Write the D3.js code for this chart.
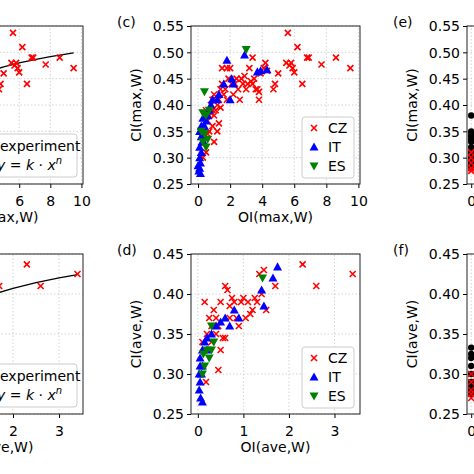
<!DOCTYPE html>
<html><head><meta charset="utf-8">
<script src="https://cdn.jsdelivr.net/npm/d3@7"></script>
<style>body{margin:0;background:#fff}svg{display:block}text{font-family:"DejaVu Sans",sans-serif}</style>
</head><body><svg id="c" width="474" height="474"></svg>
<script>
const czMax=[[5.6,0.537],[6.2,0.51],[9.5,0.47],[8.6,0.49],[7.7,0.477],[6.8,0.49],[6.9,0.49],[5.5,0.48],[5.7,0.475],[5.8,0.48],[5.9,0.47],[6.0,0.462],[6.5,0.44],[5.0,0.46],[4.7,0.43],[4.8,0.44],[4.2,0.48],[4.1,0.47],[3.9,0.46],[4.3,0.465],[3.8,0.41],[3.7,0.43],[3.8,0.425],[3.5,0.45],[3.4,0.44],[3.3,0.445],[3.2,0.47],[3.4,0.49],[3.1,0.44],[3.0,0.43],[2.9,0.455],[2.8,0.44],[2.6,0.41],[2.5,0.43],[2.4,0.45],[2.3,0.44],[2.1,0.44],[2.0,0.47],[1.9,0.45],[1.7,0.43],[1.6,0.42],[1.5,0.44],[1.4,0.43],[1.3,0.41],[1.2,0.40],[1.1,0.39],[1.0,0.38],[1.0,0.42],[0.9,0.39],[0.8,0.385],[0.7,0.38],[0.6,0.37],[0.5,0.39],[0.9,0.36],[1.2,0.35],[1.3,0.365],[0.7,0.35],[1.0,0.33],[0.5,0.31],[0.3,0.30],[1.5,0.47],[1.8,0.47],[2.2,0.42],[1.1,0.41],[0.8,0.40],[3.6,0.43],[2.7,0.45],[0.6,0.345],[0.4,0.35],[1.4,0.395],[0.9,0.41],[1.8,0.41]];
const itMax=[[1.8,0.485],[2.9,0.495],[3.7,0.463],[3.9,0.465],[4.3,0.467],[2.1,0.45],[2.2,0.44],[1.3,0.42],[1.6,0.44],[2.0,0.41],[0.1,0.28],[0.05,0.275],[0.15,0.29],[0.1,0.3],[0.2,0.31],[0.1,0.32],[0.25,0.33],[0.3,0.345],[0.4,0.36],[0.5,0.37],[0.6,0.38],[0.7,0.39],[0.8,0.40],[0.9,0.41],[0.2,0.34],[0.1,0.35],[0.3,0.375],[0.0,0.285],[0.15,0.27],[0.35,0.33],[1.2,0.41],[0.2,0.36]];
const esMax=[[3.0,0.505],[0.4,0.425],[0.3,0.385],[0.5,0.38],[0.4,0.345],[0.3,0.33],[0.5,0.32],[0.6,0.335],[0.2,0.35],[0.7,0.39]];
const czAve=[[2.3,0.437],[3.4,0.425],[2.6,0.41],[1.7,0.41],[1.45,0.43],[1.35,0.425],[1.5,0.38],[1.2,0.38],[1.1,0.39],[1.0,0.395],[1.3,0.39],[1.15,0.375],[0.95,0.39],[0.85,0.37],[0.8,0.39],[0.7,0.385],[0.6,0.41],[0.65,0.405],[0.5,0.39],[0.4,0.37],[0.3,0.36],[0.2,0.35],[0.15,0.39],[0.55,0.345],[0.6,0.345],[0.5,0.33],[0.45,0.305],[0.18,0.29],[0.25,0.37],[0.35,0.38],[0.45,0.36],[0.7,0.37],[0.9,0.36],[1.25,0.395],[1.4,0.4],[0.75,0.395],[1.05,0.37],[0.3,0.34],[0.4,0.35],[0.1,0.34]];
const itAve=[[1.75,0.434],[1.65,0.42],[1.4,0.405],[1.45,0.385],[0.9,0.37],[0.8,0.38],[0.4,0.36],[0.3,0.35],[0.2,0.345],[0.15,0.34],[0.1,0.33],[0.05,0.32],[0.05,0.31],[0.08,0.30],[0.05,0.29],[0.03,0.28],[0.06,0.27],[0.1,0.265],[0.03,0.3],[0.1,0.31],[0.2,0.33],[0.5,0.365],[0.6,0.37],[0.7,0.36]];
const esAve=[[1.42,0.42],[0.3,0.36],[0.2,0.33],[0.25,0.32],[0.15,0.31],[0.1,0.30],[0.3,0.33],[0.35,0.34],[0.12,0.325]];
const blackE=[0.38,0.35,0.345,0.34,0.33,0.32,0.31,0.30,0.29,0.28,0.285,0.335];
const redE=[0.30,0.29,0.28,0.275,0.31];
const blackF=[0.333,0.325,0.32,0.31,0.30,0.29,0.28,0.275,0.285];
const redF=[0.28,0.275,0.27,0.29,0.30];
const fitMax={k:0.412,n:0.085}, fitAve={k:0.386,n:0.077};
const fitXMax=[0.3,0.5,1,1.5,2,3,4,5,6,7,8,9,9.5], fitXAve=[0.1,0.2,0.4,0.6,0.8,1,1.5,2,2.5,3,3.4];
const yTicksMax=[0.25,0.30,0.35,0.40,0.45,0.50,0.55], yTicksAve=[0.25,0.30,0.35,0.40,0.45];

const svg=d3.select("#c");
const RED="#ff0000",BLUE="#0000ff",GREEN="#008000",FS=14;
function cross(g,x,y,c){g.append("path").attr("d",`M${x-3},${y-3}L${x+3},${y+3}M${x-3},${y+3}L${x+3},${y-3}`).attr("stroke",c).attr("stroke-width",1.6);}
function tri(g,x,y,c,up){const s=4.5;g.append("path").attr("d",up?`M${x},${y-s}L${x+s},${y+s*0.8}L${x-s},${y+s*0.8}Z`:`M${x},${y+s}L${x+s},${y-s*0.8}L${x-s},${y-s*0.8}Z`).attr("fill",c);}
function panel(o){
  const x=d3.scaleLinear().domain(o.xd).range(o.xr), y=d3.scaleLinear().domain(o.yd).range(o.yr);
  const g=svg.append("g");
  const cl="cl"+Math.random().toString(36).slice(2);
  g.append("clipPath").attr("id",cl).append("rect").attr("x",o.xr[0]).attr("y",o.yr[1]).attr("width",o.xr[1]-o.xr[0]).attr("height",o.yr[0]-o.yr[1]);
  const grid=g.append("g").attr("stroke","#c8c8c8").attr("stroke-dasharray","1.5,2").attr("stroke-width",0.8);
  o.xt.forEach(t=>grid.append("line").attr("x1",x(t)).attr("x2",x(t)).attr("y1",o.yr[0]).attr("y2",o.yr[1]));
  o.yt.forEach(t=>grid.append("line").attr("y1",y(t)).attr("y2",y(t)).attr("x1",o.xr[0]).attr("x2",o.xr[1]));
  const m=g.append("g").attr("clip-path",`url(#${cl})`);
  if(o.fit) m.append("path").datum(o.fit.xs).attr("fill","none").attr("stroke","#000").attr("stroke-width",1.3).attr("d",d3.line().x(d=>x(d)).y(d=>y(o.fit.k*Math.pow(d,o.fit.n))));
  (o.cz||[]).forEach(d=>cross(m,x(d[0]),y(d[1]),RED));
  (o.it||[]).forEach(d=>tri(m,x(d[0]),y(d[1]),BLUE,true));
  (o.es||[]).forEach(d=>tri(m,x(d[0]),y(d[1]),GREEN,false));
  (o.blk||[]).forEach(v=>m.append("circle").attr("cx",x(0)).attr("cy",y(v)).attr("r",3.2).attr("fill","#000"));
  (o.red||[]).forEach(v=>cross(m,x(0),y(v),RED));
  g.append("g").attr("transform",`translate(0,${o.yr[0]})`).call(d3.axisBottom(x).tickValues(o.xt).tickFormat(d3.format("d")).tickSize(4)).call(a=>{a.select(".domain").remove();a.selectAll("text").attr("font-size",FS).attr("fill","#000").attr("dy","1.05em");});
  g.append("g").attr("transform",`translate(${o.xr[0]},0)`).call(d3.axisLeft(y).tickValues(o.yt).tickFormat(d3.format(".2f")).tickSize(4)).call(a=>{a.select(".domain").remove();a.selectAll("text").attr("font-size",FS).attr("fill","#000").attr("dy","0.35em");});
  g.append("rect").attr("x",o.xr[0]).attr("y",o.yr[1]).attr("width",o.xr[1]-o.xr[0]).attr("height",o.yr[0]-o.yr[1]).attr("fill","none").attr("stroke","#222").attr("stroke-width",1);
  g.append("text").attr("x",(o.xr[0]+o.xr[1])/2).attr("y",o.yr[0]+38).attr("text-anchor","middle").attr("font-size",FS).text(o.xl);
  if(o.yl) g.append("text").attr("transform",`translate(${o.xr[0]-50},${(o.yr[0]+o.yr[1])/2}) rotate(-90)`).attr("text-anchor","middle").attr("font-size",FS).text(o.yl);
  if(o.lab) g.append("text").attr("x",o.xr[0]-74).attr("y",o.yr[1]+1).attr("font-size",FS).text(o.lab);
  if(o.leg==="c"){
    const L=g.append("g");const lx=o.xr[1]-58, ly=o.yr[0]-67;
    L.append("rect").attr("x",lx).attr("y",ly).attr("width",52).attr("height",61).attr("rx",3).attr("fill","#fff").attr("fill-opacity",0.85).attr("stroke","#ccc");
    cross(L,lx+12,ly+11,RED);tri(L,lx+12,ly+30,BLUE,true);tri(L,lx+12,ly+49,GREEN,false);
    ["CZ","IT","ES"].forEach((t,i)=>L.append("text").attr("x",lx+26).attr("y",ly+16+i*19).attr("font-size",FS).text(t));
  }
  if(o.leg==="a"){
    const L=g.append("g");const lx=o.xr[1]-160, ly=o.yr[0]-50;
    L.append("rect").attr("x",lx).attr("y",ly).attr("width",154).attr("height",43).attr("rx",3).attr("fill","#fff").attr("fill-opacity",0.85).attr("stroke","#ccc");
    L.append("text").attr("x",lx+77).attr("y",ly+17).attr("font-size",FS).text("experiment");
    const t=L.append("text").attr("x",lx+74).attr("y",ly+36).attr("font-size",FS);
    t.append("tspan").attr("font-style","italic").text("y");t.append("tspan").text(" = ");
    t.append("tspan").attr("font-style","italic").text("k");t.append("tspan").text(" · ");
    t.append("tspan").attr("font-style","italic").text("x");t.append("tspan").attr("font-style","italic").attr("font-size",10).attr("dy",-6).text("n");
  }
}
const yMax=[0.25,0.55], yAve=[0.25,0.45];
panel({xd:[-0.44,10.1],xr:[-81,83],yd:yMax,yr:[184,26],xt:[0,2,4,6,8,10],yt:yTicksMax,xl:"OI(max,W)",cz:czMax,fit:Object.assign({xs:fitXMax},fitMax),leg:"a"});
panel({xd:[-0.15,3.52],xr:[-86,83],yd:yAve,yr:[414,254],xt:[0,1,2,3],yt:yTicksAve,xl:"OI(ave,W)",cz:czAve,fit:Object.assign({xs:fitXAve},fitAve),leg:"a"});
panel({xd:[-0.44,10.1],xr:[191,360],yd:yMax,yr:[184,26],xt:[0,2,4,6,8,10],yt:yTicksMax,xl:"OI(max,W)",yl:"CI(max,W)",lab:"(c)",cz:czMax,it:itMax,es:esMax,leg:"c"});
panel({xd:[-0.15,3.56],xr:[191,360],yd:yAve,yr:[414,254],xt:[0,1,2,3],yt:yTicksAve,xl:"OI(ave,W)",yl:"CI(ave,W)",lab:"(d)",cz:czAve,it:itAve,es:esAve,leg:"c"});
panel({xd:[-0.04,1.56],xr:[467,635],yd:yMax,yr:[184,26],xt:[0],yt:yTicksMax,xl:"",yl:"CI(max,W)",lab:"(e)",blk:blackE,red:redE});
panel({xd:[-0.04,1.56],xr:[467,635],yd:yAve,yr:[414,254],xt:[0],yt:yTicksAve,xl:"",yl:"CI(ave,W)",lab:"(f)",blk:blackF,red:redF});
</script></body></html>
